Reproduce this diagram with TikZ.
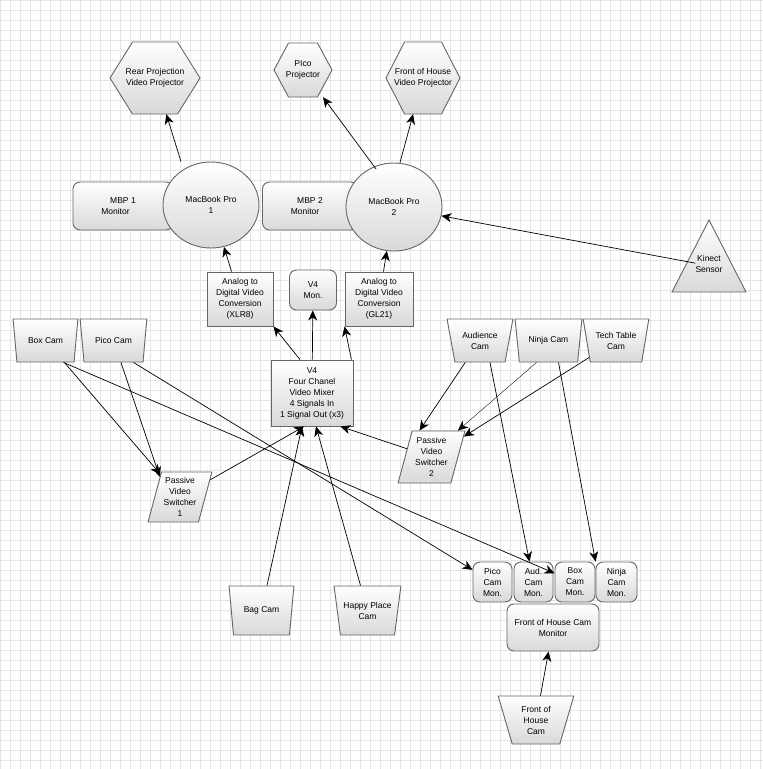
\documentclass[tikz,border=0pt]{standalone}
\usepackage{fontspec}
\setmainfont{Liberation Sans}
\usetikzlibrary{shapes.geometric,arrows.meta}
\begin{document}
\begin{tikzpicture}[x=1pt,y=-1pt,
  font=\fontsize{8.5}{11}\selectfont,
  base/.style={draw=black!60,line width=0.9pt,top color=white,bottom color=black!15,align=center,inner sep=1pt},
  rbox/.style={base,rectangle,rounded corners=7pt},
  sbox/.style={base,rectangle},
  cam/.style={base,trapezium,trapezium stretches=true,shape border rotate=180,trapezium angle=73},
  para/.style={base,trapezium,trapezium stretches=true,trapezium left angle=73,trapezium right angle=107},
  hexa/.style={draw=black!60,line width=0.9pt,top color=white,bottom color=black!15},
  lab/.style={align=center,inner sep=0pt},
  gridline/.style={black!10,line width=0.3pt},
  arr/.style={-{Stealth[length=10pt,width=9pt,inset=3pt]},line width=0.7pt}]
\useasboundingbox (0,0) rectangle (763,769);
\fill[white] (0,0) rectangle (763,769);
\foreach \k in {0,10,...,760} {\draw[gridline] (\k,0) -- (\k,769);}
\foreach \k in {0,10,...,760} {\draw[gridline] (0,\k) -- (763,\k);}
% hexagons
\newcommand{\hexat}[5]{% cx cy w h name
  \path[hexa] (#1-#3/2,#2) -- (#1-#3/4,#2-#4/2) -- (#1+#3/4,#2-#4/2) -- (#1+#3/2,#2) -- (#1+#3/4,#2+#4/2) -- (#1-#3/4,#2+#4/2) -- cycle;
  \node[minimum width=#3*0.75, minimum height=#4, inner sep=0pt] (#5) at (#1,#2) {};}
\hexat{155}{78}{90}{72}{rear}
\hexat{303}{70}{58}{54}{pico}
\hexat{423}{78}{74}{72}{foh}
\node[lab] at (rear) {Rear Projection\\Video Projector};
\node[lab] at (pico) {PIco\\Projector};
\node[lab] at (foh) {Front of House\\Video Projector};
% macbooks
\node[rbox,minimum width=100,minimum height=48] (m1mon) at (123,206) {MBP 1\\Monitor\hspace*{15pt}};
\node[base,ellipse,minimum width=96,minimum height=86] (mbp1) at (211,205) {MacBook Pro\\1};
\node[rbox,minimum width=95,minimum height=48] (m2mon) at (310,206) {MBP 2\\Monitor\hspace*{10pt}};
\node[base,ellipse,minimum width=96,minimum height=88] (mbp2) at (394,207) {MacBook Pro\\2};
% kinect
\path[hexa] (709,220) -- (746,292) -- (672,292) -- cycle;
\node[lab] (kin) at (709,264) {Kinect\\Sensor};
% conversion
\node[sbox,minimum width=66,minimum height=54] (xlr) at (240,299) {Analog to\\Digital Video\\Conversion\\(XLR8)};
\node[rbox,minimum width=47,minimum height=40] (v4mon) at (313,290) {V4\\Mon.};
\node[sbox,minimum width=68,minimum height=54] (gl) at (379,299) {Analog to\\Digital Video\\Conversion\\(GL21)};
\node[sbox,minimum width=82,minimum height=66] (v4) at (312,393) {V4\\Four Chanel\\Video Mixer\\4 Signals In\\1 Signal Out (x3)};
% cams
\node[cam,minimum width=65,minimum height=43] (boxcam) at (45.5,340.5) {Box Cam};
\node[cam,minimum width=67,minimum height=43] (picocam) at (113.5,340.5) {Pico Cam};
\node[cam,minimum width=66,minimum height=43] (audcam) at (480,340.5) {Audience\\Cam};
\node[cam,minimum width=67,minimum height=43] (ninjacam) at (548.5,340.5) {Ninja Cam};
\node[cam,minimum width=66,minimum height=43] (techcam) at (616,340.5) {Tech Table\\Cam};
\node[cam,minimum width=65,minimum height=49] (bagcam) at (261.5,610.5) {Bag Cam};
\node[cam,minimum width=67,minimum height=49] (happycam) at (367.5,610.5) {Happy Place\\Cam};
\node[cam,minimum width=76,minimum height=48] (fohcam) at (536,720) {Front of\\House\\Cam};
% switchers
\node[para,minimum width=64,minimum height=50] (pvs1) at (180,497) {Passive\\Video\\Switcher\\1};
\node[para,minimum width=67,minimum height=52] (pvs2) at (431.5,457) {Passive\\Video\\Switcher\\2};
% monitors
\node[rbox,minimum width=39,minimum height=40] (picomon) at (492.5,582) {Pico\\Cam\\Mon.};
\node[rbox,minimum width=39,minimum height=40] (audmon) at (533.5,582) {Aud.\\Cam\\Mon.};
\node[rbox,minimum width=40,minimum height=40] (boxmon) at (575,582) {Box\\Cam\\Mon.};
\node[rbox,minimum width=41,minimum height=40] (ninjamon) at (616.5,582) {Ninja\\Cam\\Mon.};
\node[rbox,minimum width=92,minimum height=47] (fohmon) at (553,627.5) {Front of House Cam\\Monitor};
% edges
\draw[arr] ([xshift=-30pt]mbp1.north) -- (rear);
\path (mbp2) ++(-18,-38) coordinate (b2);
\draw[arr] (b2) -- (pico);
\draw[arr] ([xshift=6pt]mbp2.north) -- (foh);
\draw[arr] ([yshift=-8pt]kin.north west) -- (mbp2);
\draw[arr] (xlr) -- (mbp1);
\draw[arr] (gl) -- (mbp2);
\draw[arr] ([xshift=-12pt]v4.north) -- (xlr.south east);
\draw[arr] (v4) -- (v4mon);
\draw[arr] ([xshift=-2pt]v4.north east) -- (gl.south west);
\draw[arr] (boxcam) -- (pvs1);
\draw[arr] (picocam) -- (pvs1.north west);
\draw[arr] (pvs1) -- ([xshift=-8pt]v4.south);
\draw[arr] ([xshift=18pt]boxcam.south) -- (boxmon);
\draw[arr] ([xshift=20pt]picocam.south) -- (picomon);
\draw[arr] (audcam) -- ([xshift=-12pt]pvs2.north);
\draw[arr,line width=0.35pt] ([xshift=-12pt]ninjacam.south) -- (pvs2.north east);
\draw[arr] (techcam) -- (pvs2);
\draw[arr] (pvs2) -- ([xshift=-13pt]v4.south east);
\draw[arr] ([xshift=10pt]audcam.south) -- (audmon);
\draw[arr] ([xshift=10pt]ninjacam.south) -- (ninjamon.north west);
\draw[arr] (bagcam) -- ([xshift=-10pt]v4.south);
\draw[arr] (happycam) -- ([xshift=4pt]v4.south);
\draw[arr] (fohcam) -- (fohmon);
\end{tikzpicture}
\end{document}
